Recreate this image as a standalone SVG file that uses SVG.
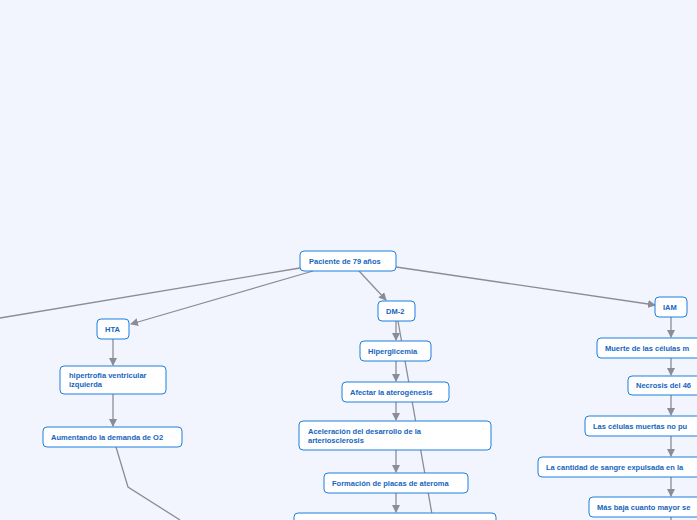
<svg xmlns="http://www.w3.org/2000/svg" width="697" height="520" viewBox="0 0 697 520">
<style>
.n rect{fill:#fff;stroke:#1a7fe0;stroke-width:1}
.n text{font-family:"Liberation Sans",Arial,sans-serif;font-size:7.5px;font-weight:bold;fill:#1565c0}
.c path{fill:none;stroke:#8a8d96;stroke-width:1.3}
</style>
<defs><marker id="a" markerWidth="8" markerHeight="8" refX="7" refY="4" orient="auto" markerUnits="userSpaceOnUse"><path d="M0,0L8,4L0,8z" fill="#8a8d96"/></marker></defs>
<rect width="697" height="520" fill="#f2f5fd"/>
<g class="c">
<path d="M300,268L0,318"/>
<path d="M313,271L131,324" marker-end="url(#a)"/>
<path d="M359,271L386,300" marker-end="url(#a)"/>
<path d="M396,267L655,305" marker-end="url(#a)"/>
<path d="M398,321L433,520"/>
<path d="M396,321V340" marker-end="url(#a)"/>
<path d="M396,361V381" marker-end="url(#a)"/>
<path d="M396,402V420" marker-end="url(#a)"/>
<path d="M396,450V472" marker-end="url(#a)"/>
<path d="M396,493V512" marker-end="url(#a)"/>
<path d="M113,339V365" marker-end="url(#a)"/>
<path d="M113,394V426" marker-end="url(#a)"/>
<path d="M116,447L128,487L180,520"/>
<path d="M671,317V337" marker-end="url(#a)"/>
<path d="M671,358V375" marker-end="url(#a)"/>
<path d="M671,395V415" marker-end="url(#a)"/>
<path d="M671,436V456" marker-end="url(#a)"/>
<path d="M671,477V496" marker-end="url(#a)"/>
<path d="M671,517V520"/>
</g>
<g id="paciente" class="n"><rect x="300" y="251" width="96" height="20" rx="4"/><text x="309" y="264">Paciente de 79 años</text></g>
<g id="dm2" class="n"><rect x="378" y="301" width="37" height="20" rx="4"/><text x="386" y="314">DM-2</text></g>
<g id="hiper" class="n"><rect x="360" y="341" width="71" height="20" rx="4"/><text x="368" y="354">Hiperglicemia</text></g>
<g id="afectar" class="n"><rect x="342" y="382" width="107" height="20" rx="4"/><text x="350" y="395">Afectar la aterogénesis</text></g>
<g id="acel" class="n"><rect x="299" y="421" width="192" height="29" rx="4"/><text x="308" y="434">Aceleración del desarrollo de la</text><text x="308" y="443">arteriosclerosis</text></g>
<g id="formacion" class="n"><rect x="324" y="473" width="144" height="20" rx="4"/><text x="332" y="486">Formación de placas de ateroma</text></g>
<g id="bottom" class="n"><rect x="294" y="513" width="202" height="20" rx="4"/></g>
<g id="hta" class="n"><rect x="97" y="319" width="32" height="20" rx="4"/><text x="105" y="332">HTA</text></g>
<g id="hipertrofia" class="n"><rect x="60" y="366" width="106" height="28" rx="4"/><text x="69" y="378">hipertrofia ventricular</text><text x="69" y="387">izquierda</text></g>
<g id="aumentando" class="n"><rect x="43" y="427" width="139" height="20" rx="4"/><text x="51" y="440">Aumentando la demanda de O2</text></g>
<g id="iam" class="n"><rect x="655" y="297" width="32" height="20" rx="4"/><text x="663" y="310">IAM</text></g>
<g id="muerte" class="n"><rect x="597" y="338" width="120" height="20" rx="4"/><text x="605" y="351">Muerte de las células m</text></g>
<g id="necrosis" class="n"><rect x="628" y="376" width="90" height="19" rx="4"/><text x="636" y="388">Necrosis del 46</text></g>
<g id="celulas" class="n"><rect x="585" y="416" width="130" height="20" rx="4"/><text x="593" y="429">Las células muertas no pu</text></g>
<g id="cantidad" class="n"><rect x="538" y="457" width="175" height="20" rx="4"/><text x="546" y="470">La cantidad de sangre expulsada en la</text></g>
<g id="masbaja" class="n"><rect x="589" y="497" width="125" height="20" rx="4"/><text x="597" y="510">Más baja cuanto mayor se</text></g>
</svg>
